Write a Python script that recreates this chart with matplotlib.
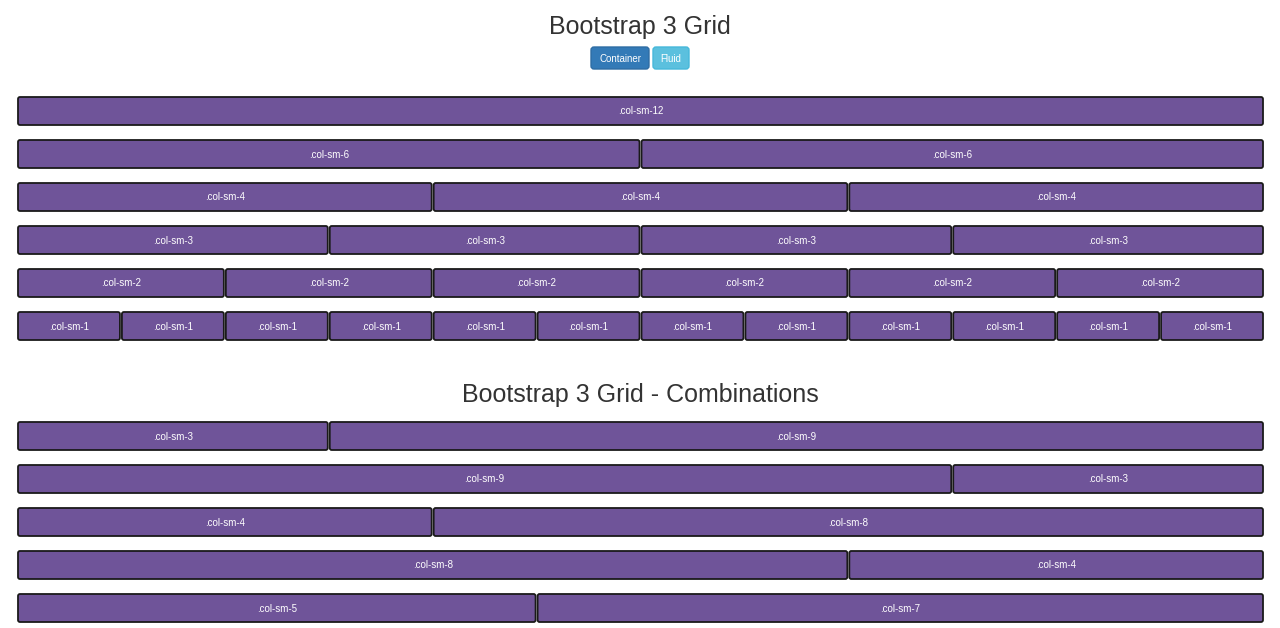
import matplotlib.pyplot as plt
from matplotlib.patches import FancyBboxPatch

# ── DATA ──
grid_rows = [[12], [6, 6], [4, 4, 4], [3, 3, 3, 3], [2] * 6, [1] * 12]
combo_rows = [[3, 9], [9, 3], [4, 8], [8, 4], [5, 7]]
title_main = "Bootstrap 3 Grid"
title_combo = "Bootstrap 3 Grid - Combinations"
buttons = ["Container", "Fluid"]

# ── LAYOUT (pixels) ──
W, H = 1280, 628
X0, X1 = 17, 1264
UNIT = (X1 - X0) / 12
ROW_H = 28
PURPLE = "#6f5499"

fig = plt.figure(figsize=(W / 100, H / 100), dpi=100)
ax = fig.add_axes([0, 0, 1, 1])
ax.set_xlim(0, W)
ax.set_ylim(H, 0)
ax.axis("off")


def draw_row(spans, top):
    k = 0
    for s in spans:
        left = X0 + k * UNIT + 1
        width = s * UNIT - 2
        ax.add_patch(FancyBboxPatch((left, top), width, ROW_H,
                                    boxstyle="round,pad=0,rounding_size=2",
                                    facecolor=PURPLE, edgecolor="#1a1a1a", lw=1.3))
        ax.text(left + width / 2, top + ROW_H / 2 + 0.5, f".col-sm-{s}",
                ha="center", va="center", color="white", fontsize=7,
                family="Liberation Sans")
        k += s


ax.text(W / 2, 27, title_main, ha="center", va="center", fontsize=18,
        color="#333333", family="Liberation Sans")

# buttons
btn_specs = [(591, 58, "#337ab7", "#2e6da4"), (653, 36, "#5bc0de", "#46b8da")]
for label, (bx, bw, fc, ec) in zip(buttons, btn_specs):
    ax.add_patch(FancyBboxPatch((bx, 47), bw, 22,
                                boxstyle="round,pad=0,rounding_size=3",
                                facecolor=fc, edgecolor=ec, lw=1))
    ax.text(bx + bw / 2, 58.5, label, ha="center", va="center", color="white",
            fontsize=7, family="Liberation Sans")

for i, spans in enumerate(grid_rows):
    draw_row(spans, 97 + i * 43)

ax.text(W / 2, 395, title_combo, ha="center", va="center", fontsize=18,
        color="#333333", family="Liberation Sans")

for i, spans in enumerate(combo_rows):
    draw_row(spans, 422 + i * 43)

plt.savefig("out.png", dpi=100, facecolor="white")
